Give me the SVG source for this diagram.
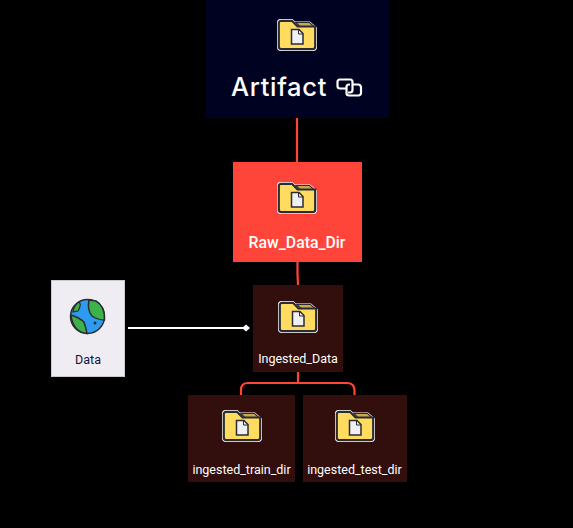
<svg xmlns="http://www.w3.org/2000/svg" width="573" height="528" viewBox="0 0 573 528">
<style>
text{font-family:Roboto,"Liberation Sans",sans-serif;fill:#fff;text-anchor:middle}
.s{font-size:12.500px}
.red{fill:none;stroke:#ff4439;stroke-width:2.200}
.dark{fill:#320e0c}
</style>
<defs>
<symbol id="folder" viewBox="0 0 40 32" width="40" height="32" overflow="visible">
<path d="M3.500 0H15.500L18 2.500H33L40 8.500V28A4 4 0 0 1 36 32H4A4 4 0 0 1 0 28V3.500A3.500 3.500 0 0 1 3.500 0Z" fill="#fff"/>
<path d="M19 3.500H32.500L37.500 8V9H24Z" fill="#c9a94d" stroke="#2b2b33" stroke-width="1.200"/>
<path d="M4 1.800H15L20.500 7.500H38.200V27.500A2.700 2.700 0 0 1 35.500 30.200H4.500A2.700 2.700 0 0 1 1.800 27.500V4A2.200 2.200 0 0 1 4 1.800Z" fill="#ffdc60" stroke="#2b2b33" stroke-width="2.200"/>
<path d="M14.500 10.500H22L26 14.500V25H14.500Z" fill="#f0eff4" stroke="#2b2b33" stroke-width="1.500"/>
<path d="M21.500 10.500V15H26" fill="none" stroke="#2b2b33" stroke-width="1"/>
</symbol>
</defs>
<rect width="573" height="528" fill="#000"/>
<g id="connectors">
<path class="red" d="M297 118V162"/>
<path class="red" d="M297.500 262V274L298 285"/>
<path class="red" d="M298 372V383"/>
<path class="red" d="M241 395V390Q241 383 248 383H347Q354 383 354.500 390V395"/>
<path d="M128 328H246" fill="none" stroke="#fff" stroke-width="2"/>
<path d="M246 324.500L250 328L246 331.500L242 328Z" fill="#fff"/>
</g>
<g id="artifact">
<rect x="206" y="0" width="183" height="118" fill="#000222"/>
<use href="#folder" x="277" y="19"/>
<text x="279" y="95.500" font-size="25.500" font-weight="500" letter-spacing="0.700" style="font-family:Inter,Roboto,sans-serif">Artifact</text>
<g fill="none" stroke="#fff" stroke-width="2.200">
<path d="M347 88.500H340A2.500 2.500 0 0 1 337.500 86V82A2.500 2.500 0 0 1 340 79.500H350A2.500 2.500 0 0 1 352.500 82V90A2.500 2.500 0 0 1 350 92.500H348"/>
<path d="M353 84.500H358A3 3 0 0 1 361 87V93A2.500 2.500 0 0 1 358.500 95.500H349A2.500 2.500 0 0 1 346.500 93V87A2.500 2.500 0 0 1 349 84.500H350"/>
</g>
</g>
<g id="raw-data-dir">
<rect x="233" y="162" width="129" height="100" fill="#ff4439"/>
<use href="#folder" x="277" y="182"/>
<text x="297" y="248" font-size="15.800" font-weight="500">Raw_Data_Dir</text>
</g>
<g id="data">
<rect x="51.500" y="280.500" width="73" height="96" fill="#efedf1" stroke="#c9c9c9"/>
<circle cx="87.500" cy="316.500" r="17" fill="#2d9cf0" stroke="#2b2b33" stroke-width="1.500"/>
<path d="M89 300Q87 310 92 316Q98 320 104.500 320Q105 306 96 301Z" fill="#3cb34a" stroke="#2b2b33" stroke-width="1.500"/>
<path d="M71 315Q80 318 84 322Q86 328 87 333.500Q73 332 71 315Z" fill="#3cb34a" stroke="#2b2b33" stroke-width="1.500"/>
<path d="M79 302Q82 304 78 311L73 312Q74 305 79 302Z" fill="#3cb34a" stroke="#2b2b33" stroke-width="1.200"/>
<circle cx="95" cy="323" r="1.500" fill="#2b2b33"/>
<text x="88" y="364" class="s" style="fill:#14143c">Data</text>
</g>
<g id="ingested-data">
<rect class="dark" x="253" y="285" width="90" height="87"/>
<use href="#folder" x="278" y="301"/>
<text x="298" y="363" class="s">Ingested_Data</text>
</g>
<g id="ingested-train-dir">
<rect class="dark" x="188" y="395" width="107" height="87"/>
<use href="#folder" x="222" y="410"/>
<text x="241.500" y="474" class="s">ingested_train_dir</text>
</g>
<g id="ingested-test-dir">
<rect class="dark" x="303" y="395" width="104" height="87"/>
<use href="#folder" x="335" y="410"/>
<text x="354.500" y="474" class="s">ingested_test_dir</text>
</g>
</svg>
